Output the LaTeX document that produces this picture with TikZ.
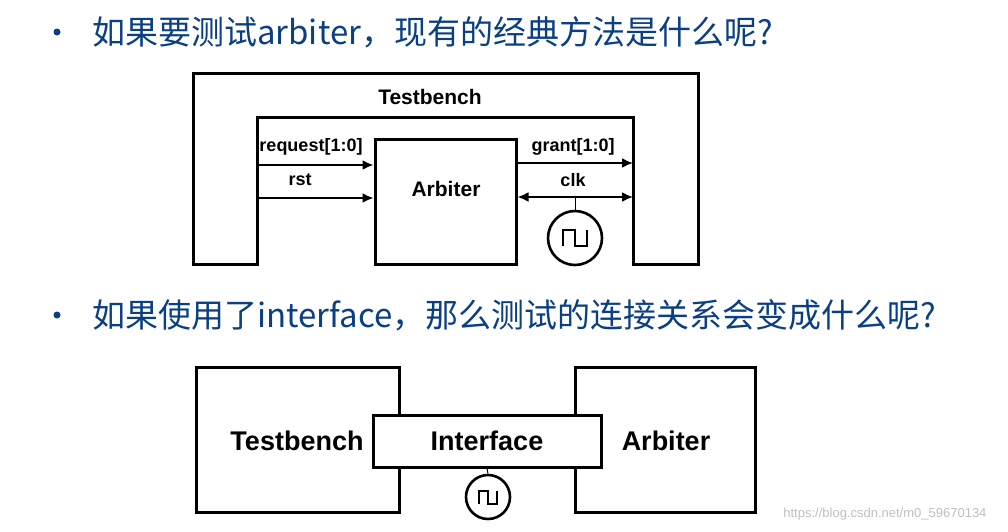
\documentclass[tikz,border=0pt]{standalone}
\usepackage{fontspec}
\setmainfont{Liberation Sans}
\newfontfamily\cjk{Noto Sans CJK SC}
\definecolor{hblue}{HTML}{0B3F84}
\begin{document}
\begin{tikzpicture}[x=1pt,y=-1pt,
  box/.style={draw,line width=3pt},
  sig/.style={line width=2pt,-{Latex[length=11pt,width=10pt]}},
  lbl/.style={font=\bfseries\fontsize{18}{18}\selectfont},
  big/.style={font=\bfseries\fontsize{27}{27}\selectfont},
  head/.style={anchor=west,text=hblue,inner sep=0pt,font=\cjk\fontsize{33}{33}\selectfont},
  clock/.style={draw,circle,line width=2.6pt,minimum size=#1,inner sep=0pt}]
\usetikzlibrary{arrows.meta}
\useasboundingbox (0,0) rectangle (1008,531);
% headings
\fill[hblue] (57,32) circle (3.5);
\node[head] (h1) at (92,32) {如果要测试arbiter，现有的经典方法是什么呢?};
\fill[hblue] (57,315) circle (3.5);
\node[head] (h2) at (92,315) {如果使用了interface，那么测试的连接关系会变成什么呢?};
% top diagram
\draw[box] (193,264) -- (193,73) -- (698,73) -- (698,264) -- (633,264) -- (633,117) -- (257,117) -- (257,264) -- cycle;
\node[font=\bfseries\fontsize{21}{21}\selectfont] (tb) at (430,97) {Testbench};
\node[box,minimum width=141,minimum height=125,inner sep=0pt] (arb) at (445.5,201.5) {};
\node[font=\bfseries\fontsize{21}{21}\selectfont] at (446,189) {Arbiter};
\coordinate (rq) at (257,165); \coordinate (rs) at (257,198);
\coordinate (gr) at (633,163); \coordinate (ck) at (633,197);
\draw[sig] (rq) -- (arb.west |- rq);
\draw[sig] (rs) -- (arb.west |- rs);
\draw[sig] (arb.east |- gr) -- (gr);
\draw[line width=2pt,{Latex[length=11pt,width=10pt]}-{Latex[length=11pt,width=10pt]}] (arb.east |- ck) -- (ck);
\node[lbl] at (311,147) {request[1:0]};
\node[lbl] at (300,180) {rst};
\node[lbl] at (573,147) {grant[1:0]};
\node[lbl] at (573,180) {clk};
\node[clock=54pt] (c1) at (575,238) {};
\draw[line width=1pt] (c1.north) -- (575,197);
\draw[line width=2.6pt] (563,246) -- (563,230) -- (575,230) -- (575,246) -- (587,246) -- (587,230);
% bottom diagram
\draw[box] (196,367) rectangle (399,512);
\draw[box] (575,367) rectangle (755,512);
\node[box,fill=white,minimum width=228,minimum height=52,inner sep=0pt] (itf) at (487,441) {};
\node[big] at (487,441) {Interface};
\node[big] at (297,441) {Testbench};
\node[big] at (666,441) {Arbiter};
\node[clock=44pt] (c2) at (488,497) {};
\draw[line width=1pt] (c2.north) -- (itf.south);
\draw[line width=2.6pt] (479,504) -- (479,491) -- (488,491) -- (488,504) -- (497,504) -- (497,491);
\node[anchor=east,text=black!25,font=\fontsize{13}{13}\selectfont] at (990,514) {https://blog.csdn.net/m0\_59670134};
\end{tikzpicture}
\end{document}
